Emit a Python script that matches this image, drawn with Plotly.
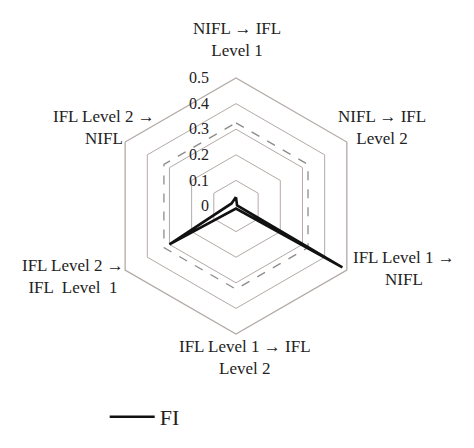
import plotly.graph_objects as go

# axes, clockwise from the top
categories = [
    "NIFL → IFL<br>Level 1",
    "NIFL → IFL<br>Level 2",
    "IFL Level 1 →<br>NIFL",
    "IFL Level 1 → IFL<br>Level 2",
    "IFL Level 2 →<br>IFL  Level  1",
    "IFL Level 2 →<br>NIFL",
]
fi_values = [0.035, 0.005, 0.48, 0.01, 0.30, 0.02]
threshold_values = [0.325, 0.325, 0.325, 0.325, 0.325, 0.325]
radial_ticks = [0, 0.1, 0.2, 0.3, 0.4, 0.5]

SERIF = "Liberation Serif, Times New Roman, serif"
GRID = "#b3aaa6"
W, H = 474, 448
# where each category label sits (pixel centre), same order as categories
label_px = [(229, 32), (374, 119), (396, 260), (237, 349), (65, 268), (96, 119)]


def closed(vals):
    return vals + vals[:1]


fig = go.Figure()
fig.add_trace(go.Scatterpolar(
    r=closed(threshold_values), theta=closed(categories), mode="lines",
    line=dict(color="#8c8c8c", width=1.3, dash="dash"), showlegend=False,
))
fig.add_trace(go.Scatterpolar(
    r=closed(fi_values), theta=closed(categories), mode="lines",
    line=dict(color="#111111", width=2.6), name="FI",
))

# category labels drawn as annotations so each can sit where the original put it
for text, (px, py) in zip(categories, label_px):
    fig.add_annotation(
        text=text, x=px / W, y=1 - py / H, xref="paper", yref="paper",
        xanchor="center", yanchor="middle", align="center", showarrow=False,
        font=dict(family=SERIF, size=17, color="#222222"),
    )

fig.update_layout(
    width=W, height=H,
    paper_bgcolor="white", plot_bgcolor="white",
    margin=dict(l=0, r=0, t=0, b=0),
    font=dict(family=SERIF, size=17, color="#222222"),
    polar=dict(
        domain=dict(x=[0.2088, 0.7531], y=[0.2723, 0.8437]),
        gridshape="linear", bgcolor="white",
        angularaxis=dict(
            rotation=90, direction="clockwise", showgrid=False,
            showline=True, linecolor=GRID, linewidth=1.3,
            ticks="", showticklabels=False,
        ),
        radialaxis=dict(
            range=[0, 0.5], tickvals=radial_ticks, ticktext=["0", "0.1", "0.2", "0.3", "0.4", "0.5"],
            angle=90, tickangle=90, side="counterclockwise", showline=False,
            gridcolor=GRID, gridwidth=1.3,
            ticks="outside", ticklen=21, tickcolor="rgba(0,0,0,0)",
            tickfont=dict(family=SERIF, size=16, color="#222222"),
        ),
    ),
    showlegend=True,
    legend=dict(orientation="h", x=0.204, y=0.087, xanchor="left", yanchor="middle",
                itemwidth=45, font=dict(family=SERIF, size=22, color="#222222")),
)

fig.write_html("out.html")
